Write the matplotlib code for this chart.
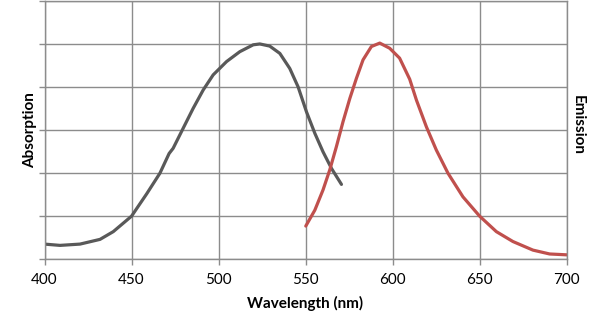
import matplotlib.pyplot as plt
import numpy as np

# absorption spectrum (arbitrary units, 1 unit = one grid step)
abs_wl = [400, 408.9, 420.4, 431.9, 439.5, 450, 458.7, 466.3, 471.6, 473.9, 479.7, 485.4,
          491.2, 496.9, 504.6, 512.2, 519.9, 523.7, 529.4, 535.2, 540.9, 545.7, 550.5,
          555.3, 560, 564.9, 570.6]
abs_val = [0.34, 0.31, 0.34, 0.45, 0.63, 0.99, 1.51, 1.99, 2.45, 2.57, 3.04, 3.50,
           3.93, 4.28, 4.59, 4.82, 4.98, 5.0, 4.95, 4.78, 4.43, 4.0, 3.42,
           2.92, 2.49, 2.10, 1.73]

# emission spectrum
em_wl = [550.1, 555.3, 560, 563.9, 567.7, 571.5, 575.4, 579.2, 583, 587.8, 592.6, 598.3,
         604, 609.8, 613.7, 619.4, 625.1, 631.8, 640.4, 650, 659.6, 669.1, 680.6, 690.2, 700]
em_val = [0.76, 1.13, 1.60, 2.07, 2.61, 3.19, 3.73, 4.20, 4.63, 4.94, 5.02, 4.90,
          4.67, 4.18, 3.69, 3.07, 2.53, 1.99, 1.44, 0.99, 0.63, 0.40, 0.20, 0.11, 0.09]

xticks = [400, 450, 500, 550, 600, 650, 700]

plt.rcParams['font.family'] = ['Lato', 'DejaVu Sans']

fig = plt.figure(figsize=(5.93, 3.22), dpi=100)
ax = fig.add_axes([44.5 / 593, (322 - 258.7) / 322, (566.7 - 44.5) / 593, 257.7 / 322])

ax.plot(abs_wl, abs_val, color='#595959', lw=2.3, solid_capstyle='round', solid_joinstyle='round')
ax.plot(em_wl, em_val, color='#C0504D', lw=2.3, solid_capstyle='round', solid_joinstyle='round')

ax.set_xlim(400, 700)
ax.set_ylim(0, 6)
ax.set_xticks(xticks)
ax.set_yticks(range(7))
ax.set_yticklabels([])
ax.grid(True, color='#8c8c8c', lw=1)
ax.set_axisbelow(True)
for s in ax.spines.values():
    s.set_color('#8c8c8c')
    s.set_linewidth(1)
ax.tick_params(axis='both', color='#8c8c8c', length=4, width=1, labelsize=11, pad=6)

fig.text(305 / 593, 1 - 303 / 322, 'Wavelength (nm)', fontsize=11, fontweight='bold',
         ha='center', va='center')
fig.text(30 / 593, 1 - 130 / 322, 'Absorption', rotation=90, fontsize=11,
         fontweight='bold', ha='center', va='center')
fig.text(578 / 593, 1 - 125 / 322, 'Emission', rotation=-90, fontsize=11,
         fontweight='bold', ha='center', va='center')

fig.savefig('out.png', dpi=100)
